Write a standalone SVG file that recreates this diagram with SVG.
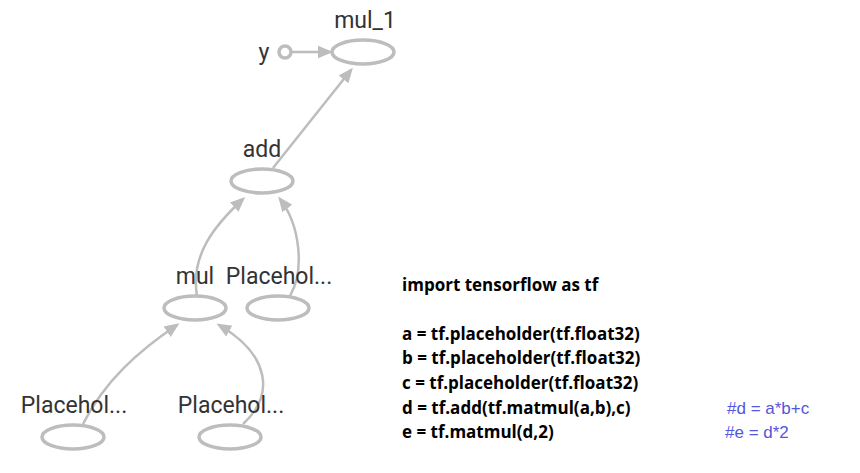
<svg xmlns="http://www.w3.org/2000/svg" width="860" height="473" viewBox="0 0 860 473">
<style>
.n{fill:none;stroke:#bdbdbd;stroke-width:3.5}
.e{fill:none;stroke:#bdbdbd;stroke-width:2.5}
.l{font-family:Roboto,"Liberation Sans",sans-serif;font-size:23px;fill:#333;text-anchor:middle}
.c{font-family:"Open Sans","Liberation Sans",sans-serif;font-size:17px;font-weight:bold;fill:#000}
.m{font-family:"Liberation Sans",sans-serif;font-size:17px;fill:#5555dd}
</style>
<defs><marker id="a" viewBox="0 0 10 10" refX="8" refY="5" markerWidth="15" markerHeight="15" markerUnits="userSpaceOnUse" orient="auto"><path d="M0,0.8L10,5L0,9.2z" fill="#bdbdbd"/></marker></defs>
<rect width="860" height="473" fill="#fff"/>
<g id="connectors">
<path class="e" d="M291,52H330" marker-end="url(#a)"/>
<path class="e" d="M273,168L351,70" marker-end="url(#a)"/>
<path class="e" d="M197,296C190,255 215,225 243,199" marker-end="url(#a)"/>
<path class="e" d="M290,296C305,270 300,225 280,199" marker-end="url(#a)"/>
<path class="e" d="M83,424C105,380 140,350 177,325" marker-end="url(#a)"/>
<path class="e" d="M243,424C275,395 270,355 219,325" marker-end="url(#a)"/>
</g>
<g id="mul_1"><ellipse class="n" cx="363" cy="52" rx="31" ry="12"/><text class="l" x="365" y="28">mul_1</text></g>
<g id="y"><circle class="n" cx="285" cy="52" r="6" stroke-width="3"/><text class="l" x="264" y="60" font-size="19">y</text></g>
<g id="add"><ellipse class="n" cx="262" cy="181" rx="31" ry="12"/><text class="l" x="262" y="157">add</text></g>
<g id="mul"><ellipse class="n" cx="195" cy="308" rx="31" ry="12"/><text class="l" x="195" y="284">mul</text></g>
<g id="ph_c"><ellipse class="n" cx="278" cy="308" rx="31" ry="12"/><text class="l" x="279" y="284">Placehol...</text></g>
<g id="ph_a"><ellipse class="n" cx="73" cy="437" rx="31" ry="12"/><text class="l" x="74" y="413">Placehol...</text></g>
<g id="ph_b"><ellipse class="n" cx="230" cy="437" rx="31" ry="12"/><text class="l" x="231" y="413">Placehol...</text></g>
<g id="code">
<text class="c" x="402" y="291">import tensorflow as tf</text>
<text class="c" x="402" y="340">a = tf.placeholder(tf.float32)</text>
<text class="c" x="402" y="364">b = tf.placeholder(tf.float32)</text>
<text class="c" x="402" y="389">c = tf.placeholder(tf.float32)</text>
<text class="c" x="402" y="414">d = tf.add(tf.matmul(a,b),c)</text>
<text class="c" x="402" y="438">e = tf.matmul(d,2)</text>
<text class="m" x="727" y="414">#d = a*b+c</text>
<text class="m" x="725" y="438">#e = d*2</text>
</g>
</svg>
